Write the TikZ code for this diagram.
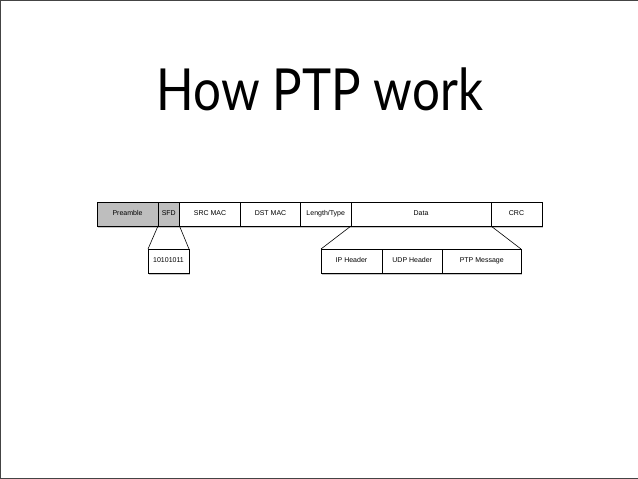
\documentclass[tikz,border=0pt]{standalone}
\usepackage{fontspec}
\setmainfont{Liberation Sans}
\newfontfamily\titlefont{Lato}
\usepackage{tikz}
\usetikzlibrary{shapes,calc}
\usetikzlibrary{shadows,positioning}
\usepackage{xcolor}
\definecolor{framegray}{RGB}{68,68,68}
\definecolor{cellgray}{RGB}{190,190,190}
\begin{document}
\begin{tikzpicture}[x=1pt, y=-1pt,
  cell/.style={draw, fill=white, line width=0.6pt, minimum height=24pt, inner sep=0pt, outer sep=0pt,
    text height=5.2pt, text depth=1.5pt, font=\fontsize{7}{8}\selectfont,
    drop shadow={shadow xshift=0.6pt, shadow yshift=-2pt, opacity=0.45}},
  grey/.style={cell, fill=cellgray}]
\useasboundingbox (0,0) rectangle (638,479);
\draw[line width=2pt, color=framegray] (639,0) -- (0,0) -- (0,479) -- (639,479);
\node[anchor=base] (title) at (320,110) {\titlefont\fontsize{58}{58}\selectfont\scalebox{0.85}[1]{How PTP work}};
% Ethernet frame
\node[grey, minimum width=61pt, anchor=north west] (pre) at (97,202) {Preamble};
\node[grey, minimum width=21.5pt, right=0pt of pre] (sfd) {SFD};
\node[cell, minimum width=61pt, right=0pt of sfd] (src) {SRC MAC};
\node[cell, minimum width=60pt, right=0pt of src] (dst) {DST MAC};
\node[cell, minimum width=50.5pt, right=0pt of dst] (len) {Length/Type};
\node[cell, minimum width=140pt, right=0pt of len] (data) {Data};
\node[cell, minimum width=51pt, right=0pt of data] (crc) {CRC};
% expanded fields
\node[cell, minimum width=41pt, anchor=north west] (bits) at (148,249) {10101011};
\node[cell, minimum width=61pt, anchor=north west] (ip) at (321,249) {IP Header};
\node[cell, minimum width=60.5pt, right=0pt of ip] (udp) {UDP Header};
\node[cell, minimum width=78.5pt, right=0pt of udp] (ptp) {PTP Message};
\draw[-, line width=0.6pt] (sfd.south west) -- (bits.north west);
\draw[-, line width=0.6pt] (sfd.south east) -- (bits.north east);
\draw[-, line width=0.6pt] (data.south west) -- (ip.north west);
\draw[-, line width=0.6pt] (data.south east) -- (ptp.north east);
\end{tikzpicture}
\end{document}
